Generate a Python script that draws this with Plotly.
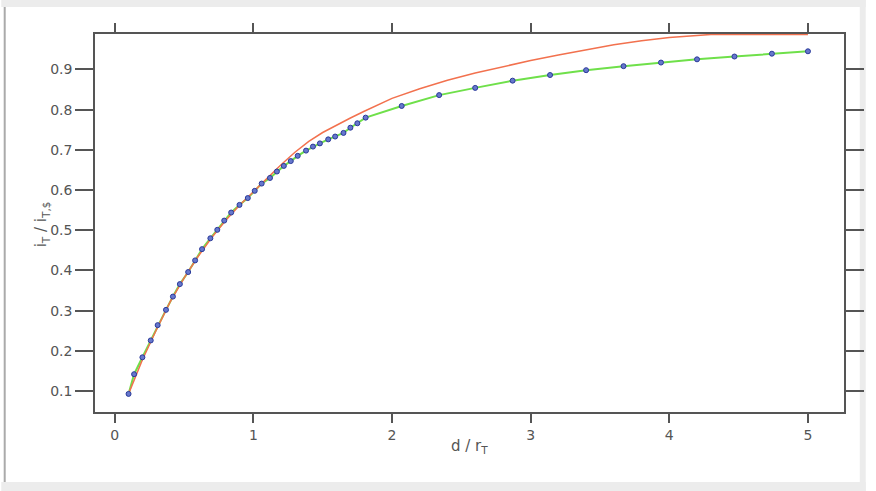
import plotly.graph_objects as go

# measured points (d / rT, iT / iT,inf)
pts_x = [0.10, 0.14, 0.20, 0.26, 0.31, 0.37, 0.42, 0.47, 0.53, 0.58,
         0.63, 0.69, 0.74, 0.79, 0.84, 0.90, 0.96, 1.01, 1.06, 1.12,
         1.17, 1.22, 1.27, 1.32, 1.38, 1.43, 1.48, 1.54, 1.59, 1.65,
         1.70, 1.75, 1.81, 2.07, 2.34, 2.60, 2.87, 3.14, 3.40, 3.67,
         3.94, 4.20, 4.47, 4.74, 5.00]
pts_y = [0.093, 0.142, 0.184, 0.226, 0.264, 0.302, 0.335, 0.366, 0.396, 0.425,
         0.453, 0.480, 0.501, 0.524, 0.544, 0.563, 0.580, 0.598, 0.616, 0.630,
         0.646, 0.660, 0.672, 0.685, 0.698, 0.708, 0.716, 0.726, 0.733, 0.742,
         0.755, 0.766, 0.780, 0.809, 0.836, 0.854, 0.872, 0.886, 0.898, 0.908,
         0.917, 0.925, 0.932, 0.939, 0.945]

# theory curve
theo_x = [0.1, 0.2, 0.3, 0.4, 0.5, 0.6, 0.7, 0.8, 0.9, 1.0, 1.1, 1.2, 1.3,
          1.4, 1.5, 1.6, 1.7, 1.8, 2.0, 2.2, 2.4, 2.6, 2.8, 3.0, 3.2, 3.4,
          3.6, 3.8, 4.0, 4.2, 4.3, 5.0]
theo_y = [0.093, 0.178, 0.252, 0.322, 0.381, 0.434, 0.482, 0.524, 0.562,
          0.596, 0.629, 0.663, 0.694, 0.721, 0.743, 0.762, 0.779, 0.796,
          0.828, 0.852, 0.873, 0.891, 0.907, 0.922, 0.936, 0.949, 0.961,
          0.971, 0.979, 0.984, 0.987, 0.987]

x_ticks = [0, 1, 2, 3, 4, 5]
y_ticks = [0.1, 0.2, 0.3, 0.4, 0.5, 0.6, 0.7, 0.8, 0.9]

W, H = 876, 491
L, R, T, B = 95, 22, 34, 79
FONT = "DejaVu Sans, Verdana, sans-serif"


def px(x):
    return (x - L) / (W - L - R)


def py(y):
    return (H - B - y) / (H - T - B)


fig = go.Figure()
fig.add_trace(go.Scatter(x=pts_x, y=pts_y, mode="lines",
                         line=dict(color="#6fe04a", width=2)))
fig.add_trace(go.Scatter(x=theo_x, y=theo_y, mode="lines",
                         line=dict(color="#f2714e", width=1.5)))
fig.add_trace(go.Scatter(x=pts_x, y=pts_y, mode="markers",
                         marker=dict(size=5, color="#6677cc",
                                     line=dict(color="#2a3a9a", width=1))))

axis_common = dict(showline=True, linecolor="#555555", linewidth=1.5,
                   mirror="ticks", ticks="outside", tickcolor="#555555",
                   tickwidth=1.5, showgrid=False, zeroline=False,
                   tickfont=dict(family=FONT, size=14, color="#555555"))

fig.update_xaxes(range=[-0.142, 5.26], tickvals=x_ticks, ticklen=9,
                 **axis_common)
fig.update_yaxes(range=[0.048, 0.988], tickvals=y_ticks, ticklen=18,
                 tickformat=".1f", **axis_common)

frame = dict(line=dict(width=0), fillcolor="#ececec", layer="below",
             xref="paper", yref="paper")
fig.update_layout(
    width=W, height=H,
    margin=dict(l=L, r=R, t=T, b=B),
    plot_bgcolor="white", paper_bgcolor="white",
    showlegend=False,
    shapes=[
        dict(type="rect", x0=px(0), x1=px(W), y0=py(0), y1=py(7), **frame),
        dict(type="rect", x0=px(0), x1=px(W), y0=py(482), y1=py(H), **frame),
        dict(type="rect", x0=px(870), x1=px(W), y0=py(0), y1=py(H), **frame),
        dict(type="line", x0=px(3.5), x1=px(3.5), y0=py(7), y1=py(482),
             xref="paper", yref="paper", line=dict(color="#aaaaaa", width=2)),
    ],
    annotations=[
        dict(text="d / r<sub>T</sub>", x=px(474), y=py(458),
             xref="paper", yref="paper", showarrow=False,
             font=dict(family=FONT, size=15, color="#555555")),
        dict(text="i<sub>T</sub> / i<sub>T,$</sub>", x=px(29), y=py(224),
             xref="paper", yref="paper", showarrow=False, textangle=-90,
             font=dict(family=FONT, size=15, color="#555555")),
    ],
)

fig.write_html("out.html", config={"displayModeBar": False},
               post_script="document.body.style.margin='0px';")
